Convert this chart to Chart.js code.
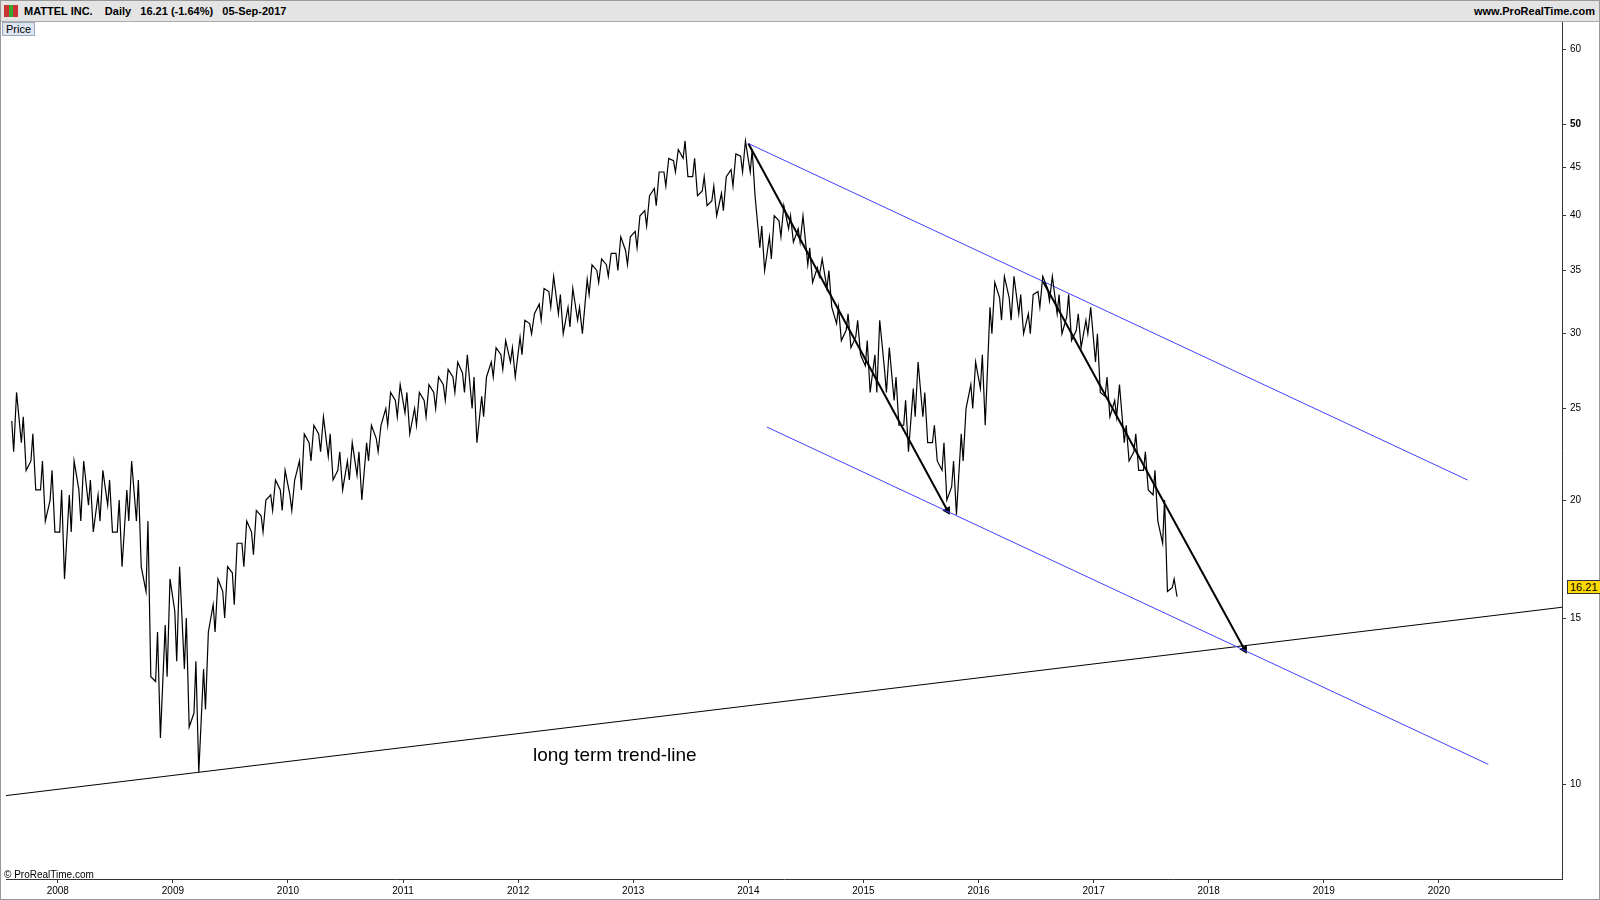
<!DOCTYPE html>
<html>
<head>
<meta charset="utf-8">
<script src="https://cdn.jsdelivr.net/npm/chart.js@4.4.1/dist/chart.umd.min.js"></script>
<style>
  body { margin: 0; background: #fff; font-family: "Liberation Sans", Arial, sans-serif; overflow: hidden; }
  #wrap { position: relative; width: 1600px; height: 900px; border: 1px solid #999; box-sizing: border-box; }
  #top { position: absolute; left: 0; top: 0; width: 100%; height: 21px; background: #e4e4e4; border-bottom: 1px solid #aaa; box-sizing: border-box; font-size: 11px; font-weight: bold; line-height: 21px; }
  #top .l { position: absolute; left: 23px; }
  #top .r { position: absolute; right: 4px; }
  #ico { position: absolute; left: 3px; top: 4px; width: 14px; height: 12px; background: linear-gradient(90deg,#c33 0 33%,#3a3 33% 66%,#c33 66%); }
  #price { position: absolute; left: 1px; top: 21px; font-size: 11px; background: #dde6f0; border: 1px solid #9ab; padding: 0 3px; }
  #note { position: absolute; left: 532px; top: 743px; font-size: 19px; }
  #copy { position: absolute; left: 3px; top: 868px; font-size: 10px; }
  #tag { position: absolute; left: 1566px; top: 579px; font-size: 11px; background: #ffd800; border: 1px solid #333; padding: 0 2px; }
  canvas { position: absolute; left: 0; top: 0; }
</style>
</head>
<body>
<div id="wrap">
  <canvas id="c" width="1598" height="898"></canvas>
  <div id="top"><div id="ico"></div><span class="l">MATTEL INC.&nbsp;&nbsp;&nbsp;&nbsp;Daily&nbsp;&nbsp;&nbsp;16.21 (-1.64%)&nbsp;&nbsp;&nbsp;05-Sep-2017</span><span class="r">www.ProRealTime.com</span></div>
  <div id="price">Price</div>
  <div id="note">long term trend-line</div>
  <div id="copy">© ProRealTime.com</div>
  <div id="tag">16.21</div>
</div>
<script>
// first month of the series: Aug 2007
const startYear = 2007, startMonth = 8;
// monthly low / high
const lows = [
  22.5, 21.5, 20.5, 19, 18.5,
  16.5, 18.5, 19, 18.5, 19, 18.5, 17, 19, 17, 13, 11.2, 13,
  13.5, 11.5, 10.3, 12, 14.5, 15, 15.5, 17, 17.5, 18.5, 19.5, 19.5,
  19.5, 20.5, 22, 22.5, 21, 20.5, 21, 20, 22, 22.5, 24, 24.5,
  23.5, 24, 24.5, 25, 25.5, 26, 26, 23, 24.5, 27, 27.5, 27,
  28.5, 30, 31, 32, 30, 30.5, 30, 33, 34, 34.5, 35, 35.5,
  37, 39, 41, 43, 44.5, 44, 42, 41, 40, 40.5, 43, 44.5,
  42, 35, 36, 38, 37.5, 37.5, 34, 34.5, 32, 29.5, 29, 28.5,
  26, 26, 26, 24, 22.5, 24.5, 23, 22, 20, 19.3, 22, 25,
  24, 30, 31, 31, 30, 30, 32, 32.5, 30, 29.5, 29, 30,
  26, 24.5, 24.5, 22, 21.5, 20.5, 19, 16, 15.8
];
const highs = [
  26, 24.5, 23.5, 22, 21.5,
  20.5, 22, 22, 21, 21.5, 21, 20, 22, 21, 19, 14.5, 16.5,
  17, 15, 13.5, 14.5, 16.5, 17, 18, 19, 19.5, 20, 21, 21.5,
  21, 23.5, 24, 24.5, 23.5, 22.5, 23, 22.5, 24, 24, 26, 26.5,
  26, 26, 26.5, 27, 27.5, 28, 28.5, 27, 27, 29, 29.5, 29,
  31, 31.5, 33.5, 34.5, 33, 33.5, 32, 35.5, 36, 36.5, 38, 38,
  40, 42, 44.5, 46, 47, 48, 46, 44, 43, 44, 46.5, 48,
  47, 39, 40, 41, 40, 40, 37, 36, 35, 32, 31.5, 31,
  29.5, 31, 29, 27, 25.5, 28, 26, 24, 23, 22, 25, 28,
  28.5, 34, 34.5, 34.5, 33, 33, 34.5, 34.5, 33, 33, 31.5, 32,
  30, 27, 26.5, 24, 23.5, 22.5, 21.5, 20, 16.5
];
const yTicks = [10, 15, 20, 25, 30, 35, 40, 45, 50, 60];
const xTicks = [2008, 2009, 2010, 2011, 2012, 2013, 2014, 2015, 2016, 2017, 2018, 2019, 2020];
// drawn trend lines: [year, price] end points
const upperChannel = [[2014.0, 47.7], [2020.25, 21.0]];
const lowerChannel = [[2014.16, 23.9], [2020.43, 10.5]];
const longTrend = [[2007.55, 9.73], [2021.07, 15.4]];
const arrow1 = [[2014.0, 47.7], [2015.73, 19.5]];
const arrow2 = [[2016.56, 34.1], [2018.31, 13.9]];

const pricePts = [];
lows.forEach((lo, i) => {
  const m = startMonth - 1 + i;
  const base = startYear + m / 12;
  const hi = highs[i];
  const down = i > 0 && lows[i] < lows[i - 1];
  const a = down ? hi : lo, b = down ? lo : hi;
  pricePts.push({ x: base + 0.2 / 12, y: (a + b) / 2 });
  pricePts.push({ x: base + 0.4 / 12, y: a });
  pricePts.push({ x: base + 0.7 / 12, y: b });
});

const seg = (pts, color, w, arrow) => ({
  type: 'line',
  data: pts.map(p => ({ x: p[0], y: p[1] })),
  borderColor: color, borderWidth: w,
  pointRadius: arrow ? [0, 5] : 0,
  pointStyle: 'triangle', pointRotation: arrow ? 150 : 0,
  pointBackgroundColor: color, pointBorderWidth: 0
});

new Chart(document.getElementById('c'), {
  type: 'line',
  data: {
    datasets: [
      { data: pricePts, borderColor: '#000', borderWidth: 1.2, pointRadius: 0, tension: 0 },
      seg(upperChannel, '#4040ff', 1),
      seg(lowerChannel, '#4040ff', 1),
      seg(longTrend, '#000', 1),
      seg(arrow1, '#000', 2, true),
      seg(arrow2, '#000', 2, true)
    ]
  },
  options: {
    responsive: false, animation: false,
    layout: { padding: { top: 20, left: 0, right: 0, bottom: 0 } },
    plugins: { legend: { display: false }, tooltip: { enabled: false } },
    scales: {
      x: {
        type: 'linear', min: 2007.55, max: 2021.07,
        afterBuildTicks: s => { s.ticks = xTicks.map(v => ({ value: v })); },
        afterFit: s => { s.height = 20; },
        grid: { drawOnChartArea: false, tickLength: 4, color: '#333' },
        border: { color: '#333' },
        ticks: { color: '#000', font: { size: 10, family: 'Liberation Sans' }, maxRotation: 0, padding: 2, callback: v => v }
      },
      y: {
        type: 'logarithmic', position: 'right', min: 7.94, max: 64.3,
        afterBuildTicks: s => { s.ticks = yTicks.map(v => ({ value: v })); },
        afterFit: s => { s.width = 37; },
        grid: { drawOnChartArea: false, tickLength: 4, color: '#333' },
        border: { color: '#333' },
        ticks: {
          color: '#000', padding: 4, callback: v => v,
          font: c => ({ size: 10, family: 'Liberation Sans', weight: c.tick && c.tick.value === 50 ? 'bold' : 'normal' })
        }
      }
    }
  }
});
</script>
</body>
</html>
